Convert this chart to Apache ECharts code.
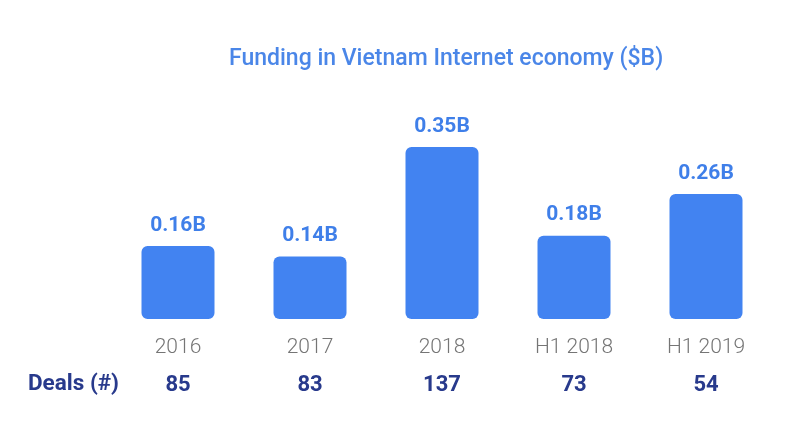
<!DOCTYPE html>
<html>
<head>
<meta charset="utf-8">
<script src="https://cdn.jsdelivr.net/npm/echarts@6/dist/echarts.min.js"></script>
<style>html,body{margin:0;padding:0;background:#fff;}#c{width:800px;height:430px;}</style>
</head>
<body>
<div id="c"></div>
<script>
const categories = ['2016', '2017', '2018', 'H1 2018', 'H1 2019'];
const funding = [0.16, 0.14, 0.35, 0.18, 0.26];
const deals = [85, 83, 137, 73, 54];
const dealsLabel = 'Deals (#)';
const titleText = 'Funding in Vietnam Internet economy ($B)';

const chart = echarts.init(document.getElementById('c'), null, {renderer: 'canvas'});
const font = 'Roboto, "Open Sans", sans-serif';
chart.setOption({
  backgroundColor: '#ffffff',
  animation: false,
  title: {
    text: titleText,
    left: 224, top: 43,
    textStyle: {fontFamily: font, fontSize: 23, fontWeight: 500, color: '#4a86e8'}
  },
  graphic: [{
    type: 'text', left: 28, top: 373,
    style: {text: dealsLabel, fontFamily: font, fontSize: 22.5, fontWeight: 'bold', fill: '#283a8c'}
  }],
  grid: {left: 112, right: 28, top: 121, bottom: 111},
  xAxis: [{
    type: 'category', data: categories, position: 'bottom',
    axisLine: {show: false}, axisTick: {show: false},
    axisLabel: {margin: 18, fontFamily: font, fontSize: 21, fontWeight: 300, color: '#757575'}
  }, {
    type: 'category', data: deals.map(String), position: 'bottom', offset: 37,
    axisLine: {show: false}, axisTick: {show: false},
    axisLabel: {margin: 18, fontFamily: font, fontSize: 22, fontWeight: 'bold', color: '#283a8c'}
  }],
  yAxis: {
    type: 'value', min: 0.02, max: 0.40,
    show: false, splitLine: {show: false}
  },
  series: [{
    type: 'bar', data: funding, barWidth: 73, xAxisIndex: 0,
    itemStyle: {color: '#4283f1', borderRadius: 6},
    label: {
      show: true, position: 'top', distance: 10,
      formatter: p => p.value + 'B',
      fontFamily: font, fontSize: 21, fontWeight: 'bold', color: '#3f7fe9'
    }
  }]
});
</script>
</body>
</html>
